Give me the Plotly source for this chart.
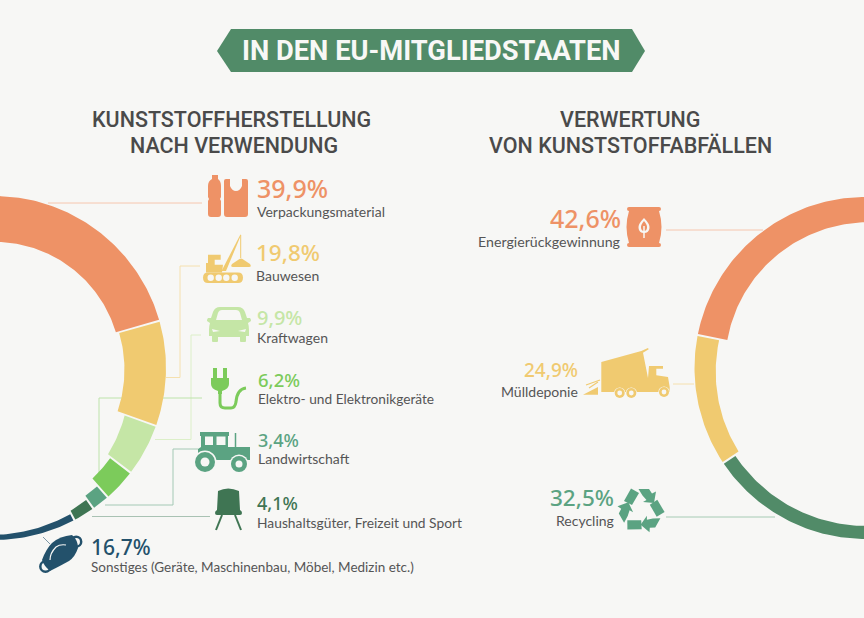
import math
import plotly.graph_objects as go

# Shares in percent
use_labels = ["Verpackungsmaterial", "Bauwesen", "Kraftwagen", "Elektro- und Elektronikgeräte",
              "Landwirtschaft", "Haushaltsgüter, Freizeit und Sport",
              "Sonstiges (Geräte, Maschinenbau, Möbel, Medizin etc.)"]
use_values = [39.9, 19.8, 9.9, 6.2, 3.4, 4.1, 16.7]
waste_labels = ["Energierückgewinnung", "Mülldeponie", "Recycling"]
waste_values = [42.6, 24.9, 32.5]

BG = "#f7f7f5"
ORANGE, YELLOW, LIGHT, GREEN, TEAL, DARK, NAVY = (
    "#ee9266", "#f0ca70", "#c5e6a6", "#7ccb5b", "#5ba382", "#3f7553", "#23516b")
BAND = "#518b68"
INK = "#4a4a4a"
use_colors = [ORANGE, YELLOW, LIGHT, GREEN, TEAL, DARK, NAVY]
waste_colors = [ORANGE, YELLOW, BAND]
use_bands = [(46, 45), (42, 41), (33, 29), (25, 24), (15, 15), (11, 10), (7, 5)]
waste_bands = [(25, 30), (22, 19), (14, 13)]

DEG_PER_PCT = 1.8
START_DEG = 87.8
BLEED_DEG = 6  # the first segment runs on past the page edge
GAP_DEG = 0.35


def band_polygon(cx, cy, r, a0, a1, w0, w1, side):
    """Tapered ring segment from a0 to a1 (degrees) as a closed outline."""
    n = max(4, int(abs(a1 - a0)))
    angles = [a0 + (a1 - a0) * i / n for i in range(n + 1)]
    widths = [w0 + (w1 - w0) * i / n for i in range(n + 1)]
    xs, ys = [], []
    for a in angles:
        xs.append(cx + side * r * math.cos(math.radians(a)))
        ys.append(cy - r * math.sin(math.radians(a)))
    for a, w in zip(reversed(angles), reversed(widths)):
        xs.append(cx + side * (r - w) * math.cos(math.radians(a)))
        ys.append(cy - (r - w) * math.sin(math.radians(a)))
    xs.append(xs[0])
    ys.append(ys[0])
    return xs, ys


def half_donut(fig, labels, values, colors, bands, cx, cy, r, side):
    angle = START_DEG
    for i, (label, value, color, (w0, w1)) in enumerate(zip(labels, values, colors, bands)):
        end = angle - value * DEG_PER_PCT
        begin = angle + BLEED_DEG if i == 0 else angle - GAP_DEG
        xs, ys = band_polygon(cx, cy, r, begin, end + GAP_DEG, w0, w1, side)
        fig.add_trace(go.Scatter(x=xs, y=ys, mode="lines", fill="toself", fillcolor=color,
                                 line=dict(width=0), name=label, hoverinfo="name"))
        angle = end


fig = go.Figure()
half_donut(fig, use_labels, use_values, use_colors, use_bands, -6, 368, 172, 1)
half_donut(fig, waste_labels, waste_values, waste_colors, waste_bands, 865.5, 368, 171, -1)

shapes = []


def poly(path, color, layer="above"):
    shapes.append(dict(type="path", path=path, fillcolor=color, line=dict(width=0), layer=layer,
                       xref="x", yref="y"))


def stroke(path, color, width=1, layer="above"):
    shapes.append(dict(type="path", path=path, line=dict(color=color, width=width),
                       fillcolor="rgba(0,0,0,0)", layer=layer, xref="x", yref="y"))


def disc(x, y, r, color):
    shapes.append(dict(type="circle", x0=x - r, x1=x + r, y0=y - r, y1=y + r, fillcolor=color,
                       line=dict(width=0), xref="x", yref="y"))


def ring(x, y, r, color, width):
    shapes.append(dict(type="circle", x0=x - r, x1=x + r, y0=y - r, y1=y + r,
                       fillcolor="rgba(0,0,0,0)", line=dict(color=color, width=width),
                       xref="x", yref="y"))


# Title ribbon
poly("M217,51 L231,29 H632 L645,51 L632,72 H231 Z", BAND)

# Leader lines, under the rings
stroke("M48,203 H202", "#f6c6ae", 1, "below")
stroke("M166,377.5 H180 V266 H200", "#f5e0ae", 1, "below")
stroke("M155,439.5 H191 V335 H201", "#dcefc8", 1, "below")
stroke("M99,478 V398 H202", "#bde3aa", 1, "below")
stroke("M105,505 H173 V449 H198", "#a4c9b5", 1, "below")
stroke("M92,516.5 H210", "#a9c2b3", 1, "below")
stroke("M43,537 L50,544", "#7d97a6", 1, "below")
stroke("M666,230 H763", "#f6c6ae", 1, "below")
stroke("M673,384 H694", "#f5e0ae", 1, "below")
stroke("M666,517 H775", "#a6cbb4", 1, "below")

# Bottle and carrier bag
poly("M212,175 H218 V179 Q221,181 221,186 V197 L220,199 L221,201 V214 Q221,217 218,217 H211 "
     "Q208,217 208,214 V201 L209,199 L208,197 V186 Q208,181 212,179 Z", ORANGE)
poly("M224,181 Q224,179 226,179 H230 V186 Q232,191 236,191 Q240,191 242,186 V179 H246 "
     "Q248,179 248,181 V214 Q248,217 245,217 H227 Q224,217 224,214 Z", ORANGE)

# Crawler crane
poly("M208,272.5 H238 Q243,272.5 243,277.8 Q243,283 238,283 H208 Q203,283 203,277.8 Q203,272.5 208,272.5 Z", YELLOW)
for wx in (210.7, 218.7, 226.3, 234.7):
    disc(wx, 277.8, 3.2, BG)
poly("M208,254.7 H220.7 V259.7 H214.7 V264.7 H223 L222,272.5 H206 V263 H208 Z", YELLOW)
poly("M240.4,234.5 L241,235 L226,271 L221.5,271 Z", YELLOW)
stroke("M240.7,235 V258", YELLOW, 1)
poly("M238,260 Q241,257 244,260 L250,264 Q252,267 249,267 H233 Q230,267 232,264 Z", YELLOW)

# Car
poly("M220,307 H238 Q243,307 245,312 L247,318 H250 Q251,319 251,321 L248,323 Q249,326 249,330 V336 "
     "H246 V341 Q246,342 245,342 H241 Q240,342 240,341 V337 H218 V341 Q218,342 217,342 H213 "
     "Q212,342 212,341 V336 H209 V330 Q209,326 210,323 L207,321 Q207,319 208,318 H211 L213,312 "
     "Q215,307 220,307 Z", LIGHT)
poly("M216,320 L218,313 Q219,310 222,310 H236 Q239,310 240,313 L242,320 Z", BG)
poly("M212,329 L220,331 L213,332 Z", BG)
poly("M246,329 L238,331 L245,332 Z", BG)

# Plug and cable
poly("M213,368 H217 V378 H223 V368 H227 V378 H229 V384 Q229,389 222,391 V394 H218 V391 "
     "Q211,389 211,384 V378 H213 Z", GREEN)
stroke("M220,392 V403 Q220,408 225,408 H231 Q235,408 236,402 Q237,389 246,388", GREEN, 3)

# Tractor
poly("M200,432 H229 V436 H228 V447 H250 V460 H198 V449 L201,447 V436 H200 Z", TEAL)
poly("M205,436.5 H213 V445 H205 Z", BG)
poly("M216.5,436.5 H225.5 V445 H216.5 Z", BG)
stroke("M235.5,433 V447", TEAL, 1.5)
disc(205, 462, 11.5, BG)
disc(205, 462, 10, TEAL)
disc(205, 462, 4.5, BG)
disc(239, 464, 9.5, BG)
disc(239, 464, 8, TEAL)
disc(239, 464, 3.5, BG)

# Chair
poly("M218,491 Q228,486 239,491 L240,510 Q242,511 242,513 Q242,515 240,515 H217 "
     "Q215,515 215,513 Q215,511 217,510 Z", DARK)
stroke("M222,515 L216,530", DARK, 2)
stroke("M235,515 L241,530", DARK, 2)

# Face mask
ring(76.2, 541.7, 5, NAVY, 2.5)
ring(45.5, 566.5, 5.2, NAVY, 2.5)
poly("M42,560 Q46,549 52,543 Q60,536 72,535 Q78,540 78,548 Q75,557 69,561 Q60,566 50,571 Q44,566 42,560 Z", NAVY)
stroke("M50,560 Q50,553 56,547 Q60,544 66,545", BG, 1.2)

# Sack with leaf
poly("M627,209 Q627,207 629,207 H659 Q661,207 661,209 Q661,211 659,211 Q664,227 659,243 "
     "Q661,243 661,245 Q661,247 659,247 H629 Q627,247 627,245 Q627,243 629,243 Q624,227 629,211 "
     "Q627,211 627,209 Z", ORANGE)
poly("M644,218 Q650,224 649.5,228 Q649,233 644,233 Q639,233 638.5,228 Q638,224 644,218 Z", BG)
poly("M644,221 Q647.5,225 647,228 Q646.5,231 644,231 Q641.5,231 641,228 Q640.5,225 644,221 Z", ORANGE)
stroke("M644,226 V238", BG, 1.5)

# Dump truck
poly("M601.3,362 L641.3,351 L648,348 L648.7,349.3 L643,352.7 L648,378 L649,366 H663 V368.7 H656.3 "
     "V375.3 L668,377 L669.7,387 V392 H601.3 Z", YELLOW)
poly("M583,394.7 H598 V387 Z", YELLOW)
stroke("M589,388 L598,382", YELLOW, 1.2)
stroke("M586,385 L600,380", YELLOW, 1.2)
for wx, wy in ((619.7, 393), (631.3, 393), (664, 392)):
    disc(wx, wy, 5.6, BG)
    disc(wx, wy, 5, YELLOW)
    disc(wx, wy, 2.4, BG)

# Recycling symbol: one block and one arrow head, repeated every 120 degrees
RCX, RCY = 641, 510
block = [(-17, -9), (-10, -21.5), (-2, -17), (-9, -5)]
head = [(-2.5, -21), (8, -21), (11, -16.5), (15, -18.5), (13, -7), (2, -8), (5.5, -10), (1.5, -14.5)]
for turn in range(3):
    a = math.radians(120 * turn)
    for piece in (block, head):
        pts = [(RCX + px * math.cos(a) - py * math.sin(a), RCY + px * math.sin(a) + py * math.cos(a))
               for px, py in piece]
        poly("M" + " L".join(f"{x:.1f},{y:.1f}" for x, y in pts) + " Z", TEAL)

# Text
annotations = []


def text(x, y, s, size, color, anchor="left", family="Noto Sans", weight=400):
    annotations.append(dict(x=x, y=y, text=s, xref="x", yref="y", showarrow=False, xanchor=anchor,
                            yanchor="middle", align=anchor, borderpad=0, borderwidth=0,
                            font=dict(family=family, size=size, color=color, weight=weight)))


def pct(v):
    return f"{v:.1f}".replace(".", ",") + "%"


text(431.5, 50.5, "IN DEN EU-MITGLIEDSTAATEN", 27.3, "#f8f8f6", "center", "Roboto", 700)
text(231.5, 119, "KUNSTSTOFFHERSTELLUNG", 21.5, INK, "center", "Roboto", 500)
text(234, 145, "NACH VERWENDUNG", 21.5, INK, "center", "Roboto", 500)
text(630, 119, "VERWERTUNG", 21.5, INK, "center", "Roboto", 500)
text(630, 145, "VON KUNSTSTOFFABFÄLLEN", 21.5, INK, "center", "Roboto", 500)

LABEL_FONT = "Lato"
use_pos = [(257, 187.5, 211, 25, 14), (256, 252, 275, 22.5, 14), (257, 317, 337, 20, 14),
           (258, 379, 398, 18.5, 13.7), (258, 440, 458, 18, 14), (257, 503, 522, 18, 13.8),
           (91, 547, 567, 21, 13.5)]
for label, value, color, (x, y1, y2, size, label_size) in zip(use_labels, use_values, use_colors, use_pos):
    text(x, y1, pct(value), size, color, weight=500)
    text(x, y2, label, label_size, "#555555", family=LABEL_FONT)

waste_pct_colors = [ORANGE, YELLOW, TEAL]
waste_pos = [(621, 218, 241, 25, 14.2), (578, 370, 391, 19, 14), (614, 497, 520, 22.5, 14)]
for label, value, color, (x, y1, y2, size, label_size) in zip(waste_labels, waste_values, waste_pct_colors, waste_pos):
    text(x, y1, pct(value), size, color, "right", weight=500)
    text(x, y2, label, label_size, "#555555", "right", family=LABEL_FONT)

axis = dict(visible=False, fixedrange=True)
fig.update_layout(
    width=864, height=618, autosize=False, showlegend=False,
    margin=dict(l=0, r=0, t=0, b=0),
    paper_bgcolor=BG, plot_bgcolor=BG,
    xaxis=dict(range=[0, 864], **axis),
    yaxis=dict(range=[618, 0], **axis),
    shapes=shapes, annotations=annotations,
)
fig.write_html("out.html", config=dict(displayModeBar=False))
